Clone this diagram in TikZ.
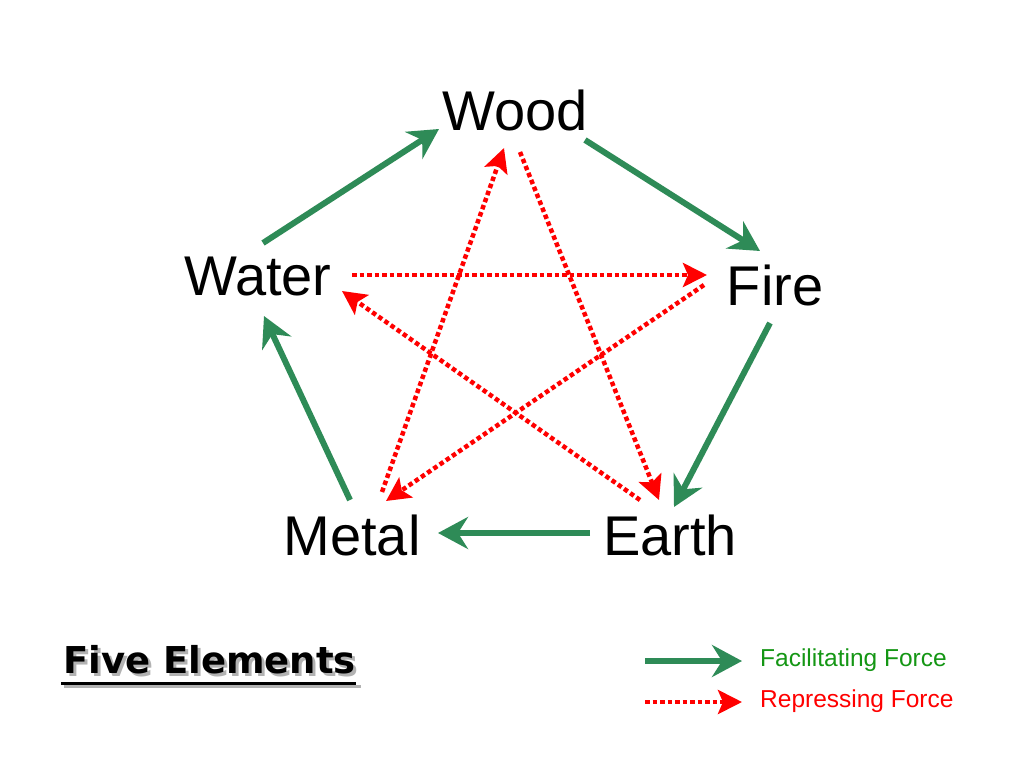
\documentclass[tikz,border=0pt]{standalone}
\usepackage{fontspec}
\setmainfont{Liberation Sans}
\newfontfamily\titlefont{DejaVu Sans}
\usetikzlibrary{arrows.meta}
\definecolor{fgreen}{RGB}{46,139,87}
\definecolor{tgreen}{RGB}{20,150,20}
\definecolor{fred}{RGB}{255,0,0}
\begin{document}
\begin{tikzpicture}[x=1pt,y=-1pt,
  elem/.style={font=\fontsize{56}{60}\selectfont, inner sep=0pt},
  fac/.style={draw=fgreen, line width=6pt, -{Stealth[length=30pt,width=32pt,inset=10pt]}},
  rep/.style={draw=fred, line width=4.5pt, dash pattern=on 4.5pt off 3pt, -{Stealth[length=24pt,width=24pt,inset=5pt]}}]
\useasboundingbox (0,0) rectangle (1020,765);
\node[elem] (wood) at (515,110) {Wood};
\node[elem] (fire) at (775,285) {Fire};
\node[elem] (earth) at (670,535) {Earth};
\node[elem] (metal) at (352,535) {Metal};
\node[elem] (water) at (258,277) {Water};
% endpoints
\coordinate (wa1) at (263,243); \coordinate (wo1) at (439,129);
\coordinate (wo2) at (585,140); \coordinate (fi1) at (760,251);
\coordinate (fi2) at (770,323); \coordinate (ea1) at (674,507);
\coordinate (ea2) at (590,533); \coordinate (me1) at (438,533);
\coordinate (me2) at (350,500); \coordinate (wa2) at (264,316);
\draw[fac] (wa1) -- (wo1);
\draw[fac] (wo2) -- (fi1);
\draw[fac] (fi2) -- (ea1);
\draw[fac] (ea2) -- (me1);
\draw[fac] (me2) -- (wa2);
\coordinate (r1s) at (520,152); \coordinate (r1e) at (659,500);
\coordinate (r2s) at (640,500); \coordinate (r2e) at (342,291);
\coordinate (r3s) at (352,275); \coordinate (r3e) at (707,275);
\coordinate (r4s) at (704,285); \coordinate (r4e) at (386,501);
\coordinate (r5s) at (382,492); \coordinate (r5e) at (504,148);
\draw[rep] (r1s) -- (r1e);
\draw[rep] (r2s) -- (r2e);
\draw[rep] (r3s) -- (r3e);
\draw[rep] (r4s) -- (r4e);
\draw[rep] (r5s) -- (r5e);
% title
\node[anchor=base west, inner sep=0pt, text=gray!60, font=\titlefont\bfseries\fontsize{37}{40}\selectfont] at (66,676) {Five Elements};
\node[anchor=base west, inner sep=0pt, font=\titlefont\bfseries\fontsize{37}{40}\selectfont] (title) at (63,673) {Five Elements};
\draw[gray!60, line width=3pt] (64,686) -- (361,686);
\draw[black, line width=3pt] (61,683) -- (title.east |- 0,683);
% legend
\coordinate (l1s) at (645,661); \coordinate (l1e) at (742,661);
\coordinate (l2s) at (645,702); \coordinate (l2e) at (742,702);
\draw[fac] (l1s) -- (l1e);
\draw[rep] (l2s) -- (l2e);
\node[anchor=west, inner sep=0pt, text=tgreen, font=\fontsize{24.5}{27}\selectfont] (lf) at (760,660) {Facilitating Force};
\node[anchor=west, inner sep=0pt, text=fred, font=\fontsize{24.5}{27}\selectfont] (lr) at (760,701) {Repressing Force};
\end{tikzpicture}
\end{document}
